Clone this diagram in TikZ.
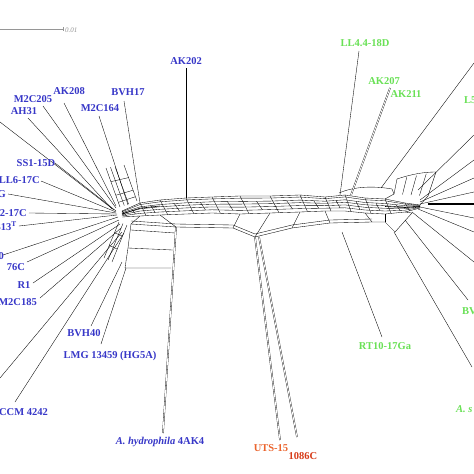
\documentclass[tikz,border=0pt]{standalone}
\usepackage{fontspec}
\setmainfont{Liberation Serif}
\usetikzlibrary{calc}
\definecolor{lblue}{RGB}{55,55,200}
\definecolor{lgreen}{RGB}{105,225,85}
\definecolor{lorange}{RGB}{235,100,45}
\definecolor{lred}{RGB}{215,60,25}
\definecolor{sgray}{RGB}{150,150,150}
\begin{document}
\begin{tikzpicture}[x=1pt,y=-1pt,
  net/.style={draw=black,line width=0.35pt},
  twin/.style={draw=black,line width=0.3pt,double=white,double distance=0.9pt},
  lab/.style={font=\fontsize{10.5}{12}\selectfont\bfseries,inner sep=0pt},
  blab/.style={lab,text=lblue},
  glab/.style={lab,text=lgreen}]
\useasboundingbox (0,0) rectangle (474,474);
\fill[white] (0,0) rectangle (474,474);

% scale bar
\coordinate (sb0) at (0,29);
\coordinate (sb1) at (63,29);
\draw[sgray,line width=0.5pt] (sb0) -- (sb1);
\draw[sgray,line width=0.4pt] ($(sb1)+(0,-2)$) -- ($(sb1)+(0,2)$);
\node[text=sgray,font=\fontsize{7}{8}\selectfont\itshape,anchor=west,inner sep=0pt] (sbl) at (65,30) {0.01};

% central band
\foreach \i/\x/\ty/\by in {1/122/211/217, 2/140/203/216, 3/160/200/215, 4/186/198/214,
  5/212/197/213, 6/240/196/214, 7/270/196/213, 8/300/195/212, 9/325/197/211,
  10/345/195/211, 11/365/198/213, 12/385/199/214, 13/405/203/212, 14/420/205/208}
  {\coordinate (t\i) at (\x,\ty); \coordinate (u\i) at (\x,\by);}
\foreach \f in {0,0.12,0.3,0.45,0.62,0.8,1}
  \draw[net] ($(t1)!\f!(u1)$) \foreach \i in {2,...,14} { -- ($(t\i)!\f!(u\i)$) };
\foreach \i/\j in {1/2,2/3,3/4,4/5,5/6,6/7,7/8,8/9,9/10,10/11,11/12,12/13,13/14}
  {\draw[net] (t\i) -- ($(u\i)!0.3!(u\j)$);
   \draw[net] ($($(t\i)!0.55!(t\j)$)!0.3!($(u\i)!0.55!(u\j)$)$) -- ($($(t\i)!0.75!(t\j)$)!0.8!($(u\i)!0.75!(u\j)$)$);}
\draw[net,line width=0.6pt] ($(t12)!0.5!(u12)$) -- ($(t13)!0.5!(u13)$) -- ($(t14)!0.5!(u14)$);
\draw[net,line width=0.6pt] ($(t1)!0.5!(u1)$) -- ($(t2)!0.4!(u2)$) -- ($(t3)!0.4!(u3)$);

% lower band line
\foreach \n/\x/\y in {w1/131/224, w2/176/227, w3/233/228, w4/255/237, w5/292/228,
  w6/330/223, w7/372/222, w8/385/222, w9/395/232, w10/412/213}
  \coordinate (\n) at (\x,\y);
\draw[net] (w1) -- (w2) -- (w3) -- (w4) -- (w5) -- (w6) -- (w7) -- (w8) -- (w9) -- (w10);
\draw[net] ($(w1)+(0,-3)$) -- ($(w2)+(0,-3)$) -- ($(w3)+(0,-3)$) -- ($(w4)+(0,-3)$) -- ($(w5)+(0,-3)$) -- ($(w6)+(0,-3)$) -- ($(w7)+(0,-3)$);
\draw[net] (w1) -- (u2); \draw[net] (w2) -- (u3); \draw[net] (w3) -- (u6);
\draw[net] (w4) -- (u7); \draw[net] (w5) -- (u8); \draw[net] (w6) -- (u9);
\draw[net] (w7) -- (u11); \draw[net] (w8) -- (u12); \draw[net] (w10) -- (u13);

% box below left hub
\foreach \n/\x/\y in {bA/131/224, bB/176/227, bC/173/250, bD/128/248, bE/125/268, bF/171/268}
  \coordinate (\n) at (\x,\y);
\draw[net] (bA) -- (bD) -- (bE) -- (bF);
\draw[net] (bD) -- (bC);
\draw[net] ($(bA)+(0,6)$) -- ($(bB)+(-1,6)$);

% upper left ribbon
\foreach \n/\x/\y in {qA/106/168, qB/124/165, qC/137/201, qD/120/207}
  \coordinate (\n) at (\x,\y);
\draw[net] (qA) -- (qD); \draw[net] (qB) -- (qC);
\foreach \f in {0.35,0.7,0.88}
  \draw[net] ($(qA)!\f!(qD)$) -- ($(qB)!\f!(qC)$);
\draw[net] ($(qA)!0.5!(qB)$) -- ($(qD)!0.5!(qC)$);
\draw[net] ($(qA)!0.25!(qB)$) -- ($(qD)!0.25!(qC)$);

% lower left ribbon
\foreach \n/\x/\y in {rA/119/222, rB/127/225, rC/112/262, rD/104/258}
  \coordinate (\n) at (\x,\y);
\draw[net] (rA) -- (rD); \draw[net] (rB) -- (rC);
\foreach \f in {0.3,0.65}
  \draw[net] ($(rA)!\f!(rD)$) -- ($(rB)!\f!(rC)$);
\draw[net] ($(rA)!0.5!(rB)$) -- ($(rD)!0.5!(rC)$);

% right wing
\foreach \n/\x/\y in {kA/394/194, kB/397/179, kC/436/172, kD/428/196}
  \coordinate (\n) at (\x,\y);
\draw[net] (kA) -- (kB) .. controls (412,174) and (424,172) .. (kC) -- (kD);
\draw[net] ($(kA)!0.5!(kD)$) -- ($(kB)!0.5!(kC)$);
\draw[net] ($(kA)!0.25!(kD)$) -- ($(kB)!0.25!(kC)$);
\draw[net] ($(kA)!0.75!(kD)$) -- ($(kB)!0.75!(kC)$);
\draw[net] (kA) -- (t12); \draw[net] (kD) -- (t14);
% upper right hump
\coordinate (hA) at (339,193); \coordinate (hB) at (392,189);
\draw[net] (hA) .. controls (355,186) and (375,186) .. (hB) -- (kA);

% leaf edges: label end -> network point
\foreach \n/\ax/\ay/\bx/\by in {
  BVHa/124/101/140/203, MCa/99/116/128/205, AKa/64/103/116/206,
  MCb/43/106/116/208, AHa/28/118/112/209, OFa/0/122/114/210,
  SSa/55/163/116/211, LLa/41/181/116/212, Ga/8/194/116/213,
  TWa/29/213/117/214, THa/19/226/117/215, ZEa/3/255/118/217,
  SCa/27/262/119/220, Ra/33/283/120/224, MCc/40/298/121/228,
  OFb/0/378/122/232, CCa/15/402/124/233,
  BVHb/91/326/122/262, LMa/101/344/126/268,
  AKb/186/68/186/198,
  LLb/359/51/340/195,
  RTa/382/337/342/232,
  Ra1/474/63/381/188, Rb1/474/135/418/190, Rc1/474/160/420/200,
  Rd1/474/178/420/202, Re1/474/192/420/204, Rf1/474/218/420/207,
  Rg1/474/232/418/209, Rh1/474/262/412/212, Ri1/468/300/405/220,
  As1/472/367/394/232}
  {\coordinate (e\n) at (\ax,\ay); \coordinate (h\n) at (\bx,\by);
   \draw[net] (e\n) -- (h\n);}

% twin leaf edges
\foreach \n/\ax/\ay/\bx/\by in {
  AHy/163/433/176/227, UTS/280/440/255/237, ONE/297/437/259/237,
  AKc/390/88/351/195}
  {\coordinate (e\n) at (\ax,\ay); \coordinate (h\n) at (\bx,\by);
   \draw[twin] (e\n) -- (h\n);}
\coordinate (eTh) at (474,204); \coordinate (hTh) at (428,204);
\draw[black,line width=1.4pt] (hTh) -- (eTh);

% labels
\node[blab] (lAK202) at (186,61) {AK202};
\node[blab] (lBVH17) at (128,92) {BVH17};
\node[blab] (lAK208) at (69,91) {AK208};
\node[blab] (lM2C205) at (33,99) {M2C205};
\node[blab] (lM2C164) at (100,108) {M2C164};
\node[blab] (lAH31) at (24,111) {AH31};
\node[blab] (lSS) at (36,163) {SS1-15D};
\node[blab,anchor=east] (lLL6) at (40,180) {LL6-17C};
\node[blab,anchor=east] (lG) at (6,194) {G};
\node[blab,anchor=east] (l217) at (27,213) {2-17C};
\node[blab,anchor=east] (l313) at (17,226) {313\textsuperscript{T}};
\node[blab,anchor=east] (l0) at (4,256) {0};
\node[blab] (l76C) at (16,267) {76C};
\node[blab] (lR1) at (24,285) {R1};
\node[blab,anchor=east] (lM2C185) at (37,302) {M2C185};
\node[blab] (lBVH40) at (84,333) {BVH40};
\node[blab] (lLMG) at (110,356) {LMG 13459 (HG5A)};
\node[blab,anchor=east] (lCCM) at (48,412) {CCM 4242};
\node[blab] (lAhyd) at (160,442) {\textit{A. hydrophila} 4AK4};
\node[lab,text=lorange] (lUTS) at (271,448) {UTS-15};
\node[lab,text=lred] (l1086) at (303,456) {1086C};
\node[glab] (lLL44) at (365,43) {LL4.4-18D};
\node[glab] (lAK207) at (384,81) {AK207};
\node[glab] (lAK211) at (406,94) {AK211};
\node[glab,anchor=west] (lL5) at (464,100) {L5};
\node[glab,anchor=west] (lBV) at (462,311) {BV};
\node[glab] (lRT) at (385,346) {RT10-17Ga};
\node[glab,anchor=west] (lAs) at (456,409) {\textit{A. s}};
\end{tikzpicture}
\end{document}
